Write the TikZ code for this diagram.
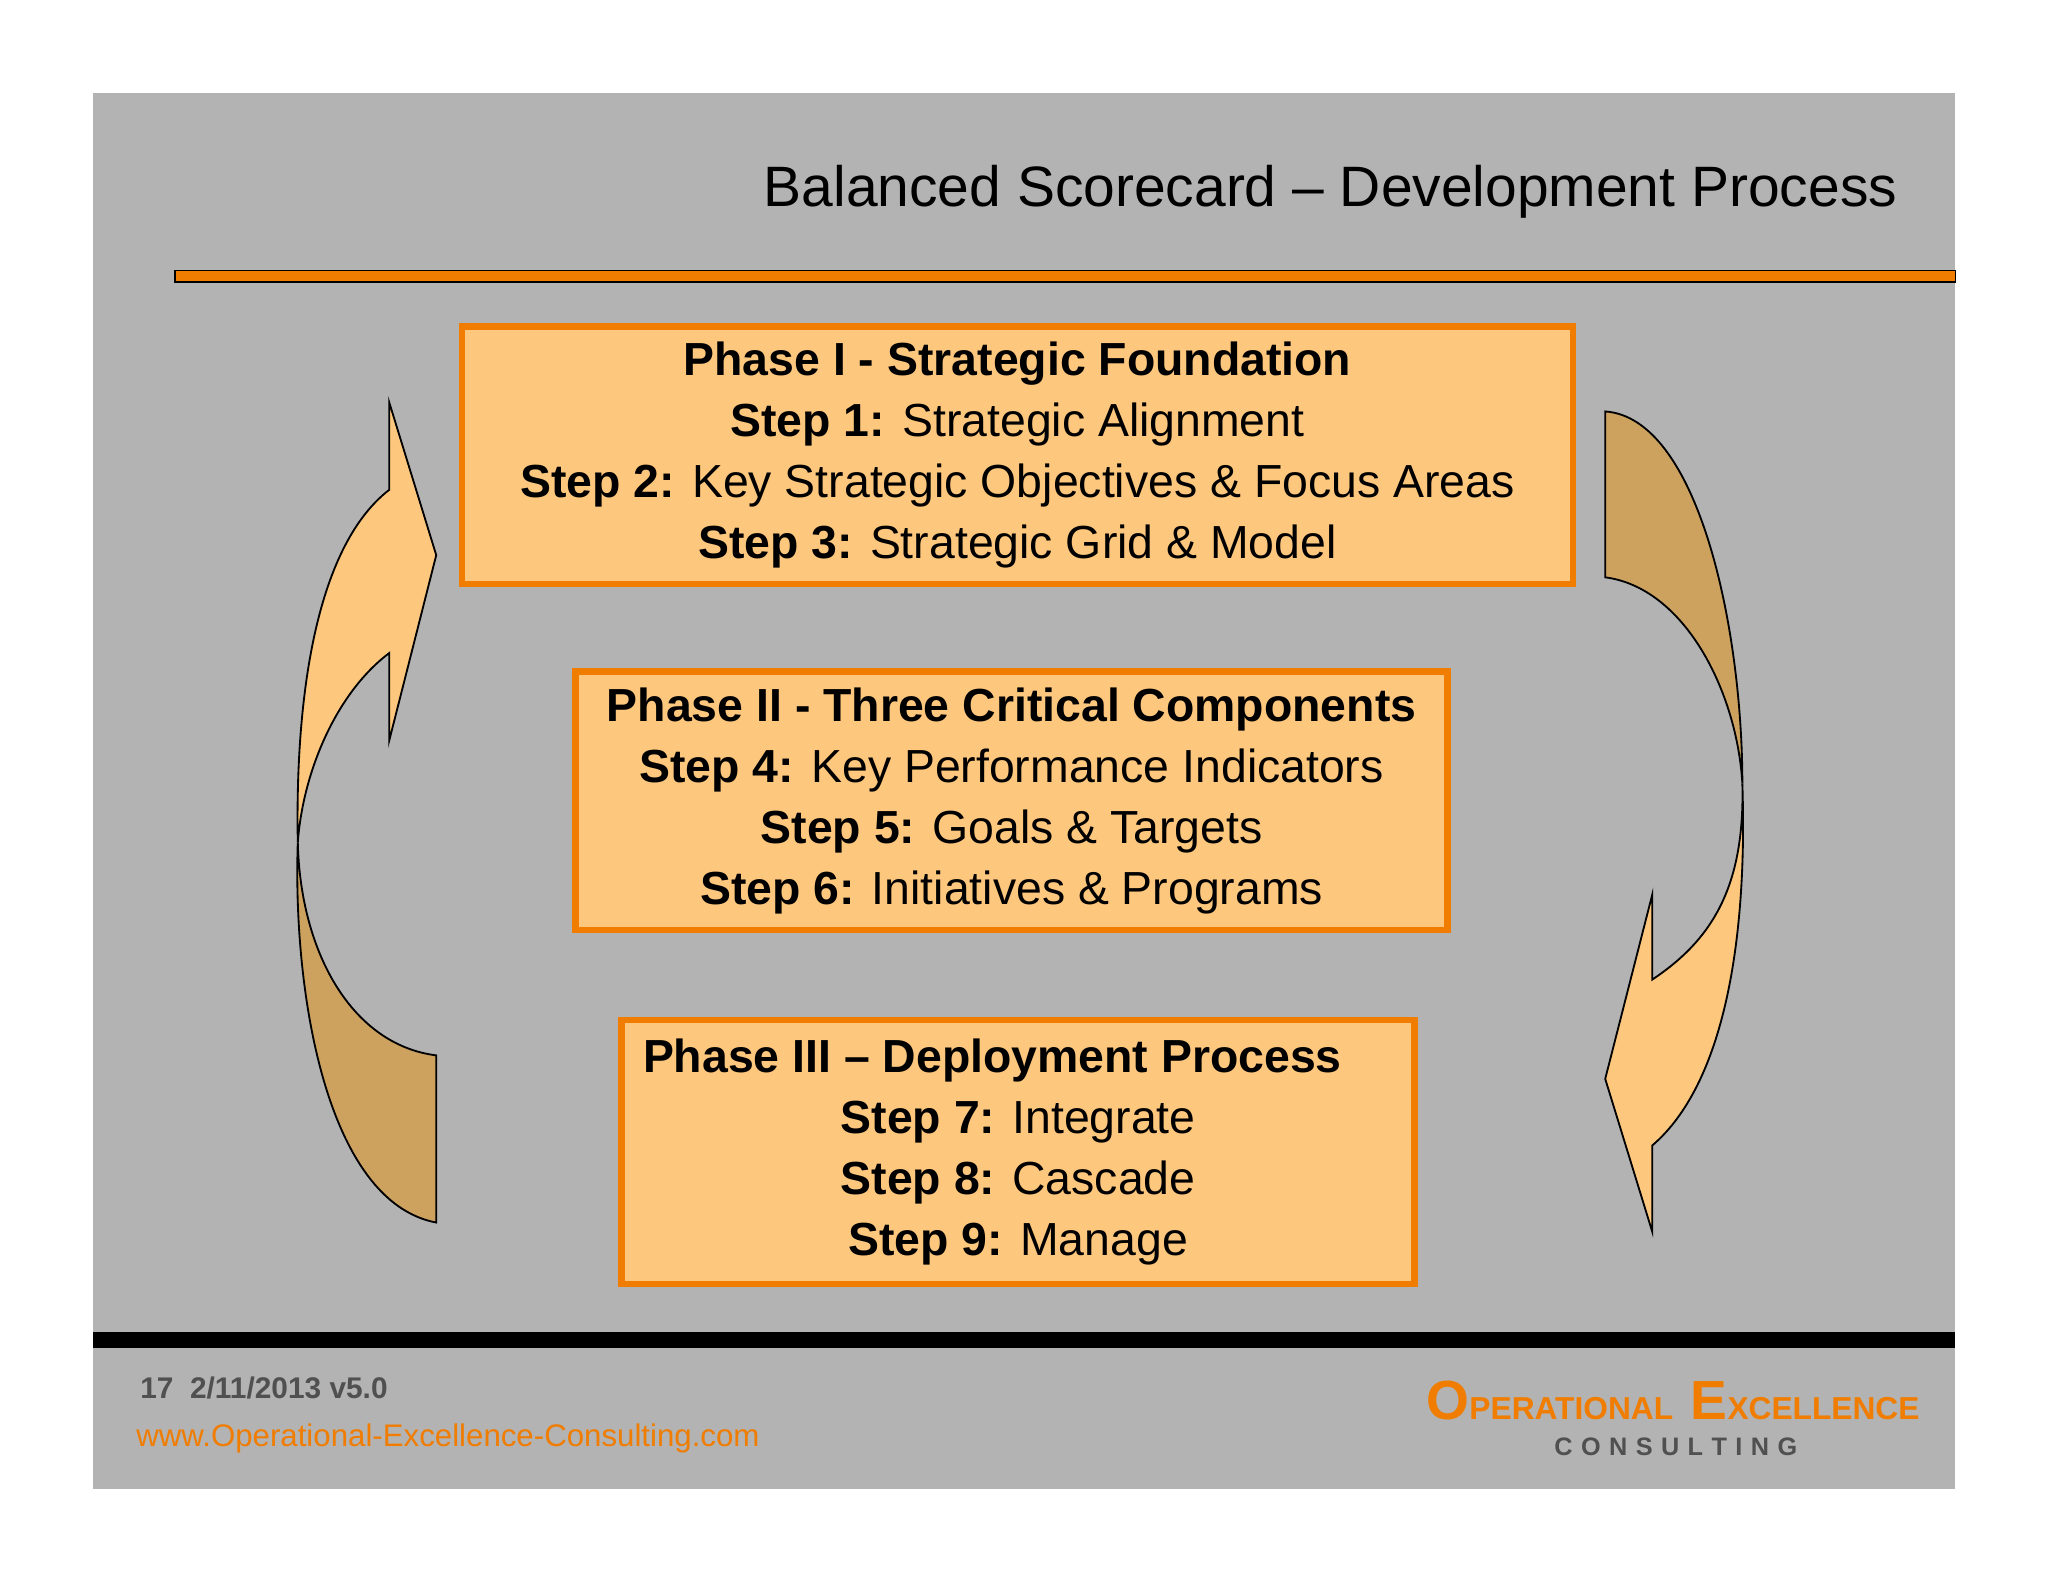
\documentclass[tikz,border=0pt]{standalone}
\usepackage{fontspec}
\setmainfont{Liberation Sans}
\definecolor{slide}{HTML}{B3B3B3}
\definecolor{oxorange}{HTML}{F07C00}
\definecolor{boxfill}{HTML}{FDC77D}
\definecolor{darkrib}{HTML}{CDA25F}
\definecolor{footgray}{HTML}{505050}
\tikzset{
  phase/.style={draw=oxorange, line width=0.5mm, fill=boxfill, inner sep=0pt},
  steps/.style={align=center, font=\fontsize{10.1}{13.3}\selectfont},
}
\begin{document}
\begin{tikzpicture}[x=0.01cm,y=-0.01cm]
	\useasboundingbox[fill=white] (0,0) rectangle (1568,1211);
	\fill[slide] (71,71) rectangle (1497,1140);
	
	\node[anchor=east, font=\fontsize{12.4}{15}\selectfont] (title) at (1465,147) {Balanced Scorecard -- Development Process};
	\draw[fill=oxorange, line width=0.3pt] (134,207) rectangle (1497,216);
	
	\node[phase, minimum width=8.5cm, minimum height=1.97cm] (P1) at (779,348.5) {};
	\node[steps] (T1) at (P1) {\textbf{Phase I - Strategic Foundation}\\
		\textbf{Step 1:} Strategic Alignment\\
		\textbf{Step 2:} Key Strategic Objectives \& Focus Areas\\
		\textbf{Step 3:} Strategic Grid \& Model};
	
	\node[phase, minimum width=6.67cm, minimum height=1.98cm] (P2) at (774.5,613) {};
	\node[steps] (T2) at (P2) {\textbf{Phase II - Three Critical Components}\\
		\textbf{Step 4:} Key Performance Indicators\\
		\textbf{Step 5:} Goals \& Targets\\
		\textbf{Step 6:} Initiatives \& Programs};
	
	\node[phase, minimum width=6.07cm, minimum height=2.02cm] (P3) at (779.5,882) {};
	\node[steps] (T3) at (P3) {\makebox[5.74cm][l]{\textbf{Phase III -- Deployment Process}}\\
		\textbf{Step 7:} Integrate\\
		\textbf{Step 8:} Cascade\\
		\textbf{Step 9:} Manage};
	
	% left ribbon arrow
	\draw[fill=boxfill, line width=0.4pt] (228,645) .. controls (226,540) and (240,420) .. (298,375)
		-- (298,308) -- (334,425) -- (298,567) -- (298,500)
		.. controls (258,530) and (232,590) .. (228,645) -- cycle;
	\draw[fill=darkrib, line width=0.4pt] (228,645) .. controls (230,730) and (270,800) .. (334,808)
		-- (334,936) .. controls (250,920) and (224,760) .. (228,645) -- cycle;
	
	% right ribbon arrow
	\draw[fill=darkrib, line width=0.4pt] (1334,600) .. controls (1334,480) and (1300,320) .. (1229,315)
		-- (1229,442) .. controls (1290,450) and (1330,530) .. (1334,600) -- cycle;
	\draw[fill=boxfill, line width=0.4pt] (1334,600) .. controls (1336,680) and (1310,720) .. (1265,750)
		-- (1265,685) -- (1229,826) -- (1265,943) -- (1265,877)
		.. controls (1320,830) and (1338,720) .. (1334,600) -- cycle;
	
	\fill[black] (71,1020) rectangle (1497,1032);
	
	\node[anchor=west, text=footgray, font=\bfseries\fontsize{6.5}{8}\selectfont] (date) at (95,1063) {17\ \ 2/11/2013 v5.0};
	\node[anchor=west, text=oxorange, font=\fontsize{6.8}{8}\selectfont] (url) at (92,1101) {www.Operational-Excellence-Consulting.com};
	\node[anchor=east, text=oxorange, font=\bfseries\fontsize{6.9}{8}\selectfont] (logo) at (1482,1072)
		{{\fontsize{12}{12}\selectfont O}PERATIONAL\ \ {\fontsize{12}{12}\selectfont E}XCELLENCE};
	\node[text=footgray, font=\bfseries\fontsize{5.5}{7}\selectfont] (cons) at (1283,1108) {C\,\,O\,\,N\,\,S\,\,U\,\,L\,\,T\,\,I\,\,N\,\,G};
\end{tikzpicture}
\end{document}
